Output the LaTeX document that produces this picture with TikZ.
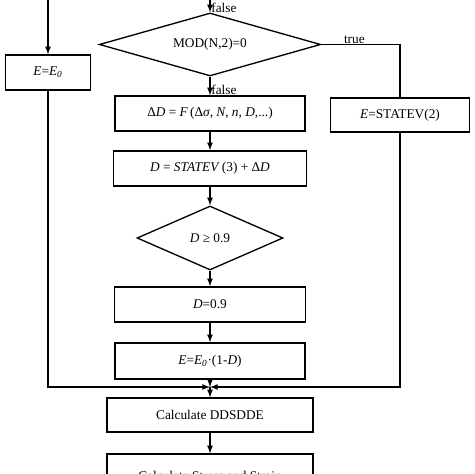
\documentclass[tikz,border=0pt]{standalone}
\usepackage{fontspec}
\setmainfont{Liberation Serif}
\usepackage{tikz}
\usetikzlibrary{arrows,positioning,shapes.geometric}

\begin{document}
\begin{tikzpicture}[x=0.75pt,y=-0.75pt,line width=1pt,>=latex,
box/.style={draw,rectangle,inner sep=1pt,minimum height=26.25pt},
dec/.style={draw,diamond,inner sep=0pt,aspect=3},
lbl/.style={inner sep=0.5pt}]
\useasboundingbox (0,0) rectangle (474,474);
% decisions
\node[dec,minimum width=166pt,minimum height=47.25pt] (mod) at (210,44.5) {MOD(N,2)=0};
\node[dec,minimum width=109.5pt,minimum height=48pt] (crit) at (210,238) {\textit{D} ≥ 0.9};
% boxes
\node[box,minimum width=63.75pt] (e0) at (48,72.5) {\textit{E}=\textit{E}\textsubscript{\textit{0}}};
\node[box,minimum width=142.5pt] (dD) at (210,113.5) {Δ\textit{D} = \textit{F}\,(Δ\textit{σ}, \textit{N}, \textit{n}, \textit{D},...)};
\node[box,minimum width=144.75pt] (Dst) at (210,168.5) {\textit{D} = \textit{STATEV}\,(3) + Δ\textit{D}};
\node[box,minimum width=143.25pt] (D09) at (210,304.5) {\textit{D}=0.9};
\node[box,minimum width=142.5pt,minimum height=27pt] (Eupd) at (210,361) {\textit{E}=\textit{E}\textsubscript{\textit{0}}·(1-\textit{D})};
\node[box,minimum width=104.25pt,minimum height=25.5pt] (statev) at (400,115) {\textit{E}=STATEV(2)};
\node[box,minimum width=154.5pt,minimum height=25.5pt] (ddsdde) at (210,415) {Calculate DDSDDE};
\node[box,minimum width=154.5pt,minimum height=33pt] (stress) at (210,476) {Calculate Stress and Strain};
% free ends
\coordinate (in) at (210,-20);
\coordinate (inL) at (48,-20);
\coordinate (join) at (210,387);
% connectors
\draw[->] (in) -- (mod.north) node[lbl,right,pos=0.85]{false};
\draw[->] (inL) -- (e0.north);
\draw (mod.east) -| node[lbl,above,pos=0.21]{true} (statev.north);
\draw[->] (mod.south) -- (dD.north) node[lbl,right,pos=0.72]{false};
\draw[->] (dD) -- (Dst);
\draw[->] (Dst) -- (crit);
\draw[->] (crit) -- (D09);
\draw[->] (D09) -- (Eupd);
\draw[->] (Eupd) -- (join);
\draw[->] (e0) |- (join);
\draw[->] (statev) |- (join);
\draw[->] (join) -- (ddsdde);
\draw[->] (ddsdde) -- (stress);
\end{tikzpicture}
\end{document}
